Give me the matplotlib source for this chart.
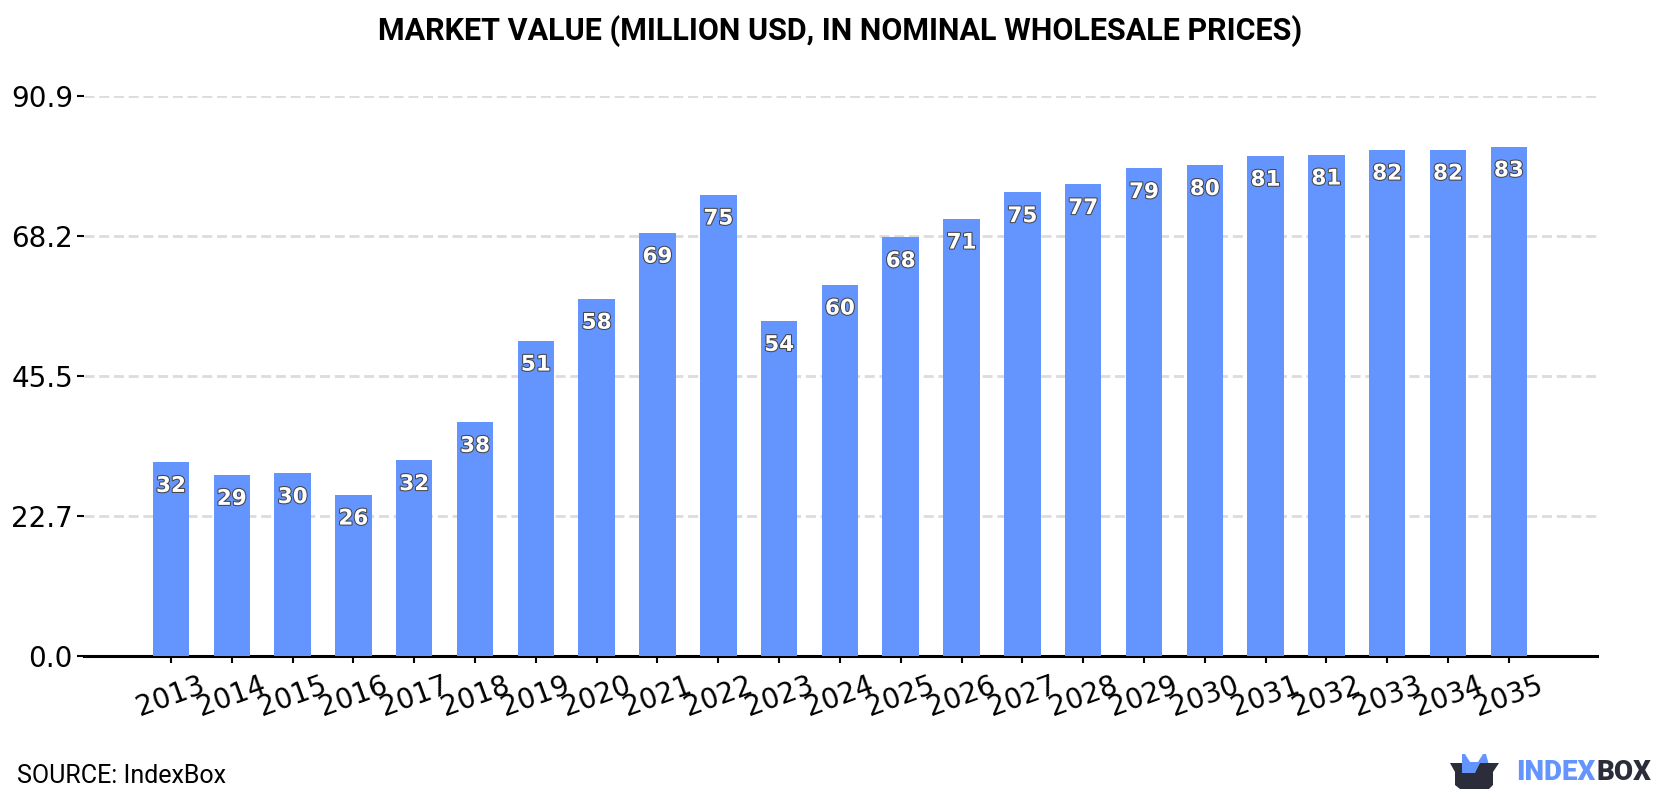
import matplotlib
matplotlib.use("Agg")
import matplotlib.pyplot as plt
import matplotlib.patheffects as pe
from matplotlib.patches import Polygon

# market value per year, million USD
years = [2013, 2014, 2015, 2016, 2017, 2018, 2019, 2020, 2021, 2022, 2023, 2024,
         2025, 2026, 2027, 2028, 2029, 2030, 2031, 2032, 2033, 2034, 2035]
values = [31.5, 29.4, 29.7, 26.2, 31.8, 38.0, 51.2, 58.0, 68.7, 74.9, 54.4, 60.3,
          68.0, 71.0, 75.3, 76.6, 79.2, 79.7, 81.2, 81.4, 82.2, 82.2, 82.7]
y_ticks = [0.0, 22.7, 45.5, 68.2, 90.9]

BLUE = "#6495ff"
DARK = "#2b2d3a"

fig = plt.figure(figsize=(16.8, 8), dpi=100)
ax = fig.add_axes([84 / 1680, 1 - 656 / 800, (1597 - 84) / 1680, 560 / 800])

bars = ax.bar(years, values, width=0.6, color=BLUE, zorder=3)

# value labels sit just inside the top of each bar
for year, val in zip(years, values):
    ax.annotate(f"{val:.0f}", (year, val), xytext=(0, -24), textcoords="offset pixels",
                ha="center", va="center", fontsize=15.5, fontweight="bold", color="white",
                family="DejaVu Sans", zorder=4,
                path_effects=[pe.withStroke(linewidth=1.5, foreground="#444444")])

ax.set_xlim(2013 - 1.43, 2013 + 23.45)
ax.set_ylim(0, 90.9)
ax.set_xticks(years)
ax.set_xticklabels(years, rotation=20, fontsize=20)
ax.set_yticks(y_ticks)
ax.set_yticklabels([f"{t:.1f}" for t in y_ticks], fontsize=20)
ax.tick_params(axis="y", length=5, width=1.5, pad=3)
ax.tick_params(axis="x", length=5, width=1.5, pad=6)
ax.yaxis.grid(True, linestyle=(0, (3.6, 1.7)), linewidth=2, color="#dcdcdc", zorder=1)
ax.set_axisbelow(True)

for side in ["top", "left", "right"]:
    ax.spines[side].set_visible(False)
ax.spines["bottom"].set_linewidth(2.2)

fig.text(0.5, 1 - 31 / 800, "MARKET VALUE (MILLION USD, IN NOMINAL WHOLESALE PRICES)",
         ha="center", va="center", fontsize=22, fontweight="bold", family="Roboto")
fig.text(17 / 1680, 1 - 776 / 800, "SOURCE: IndexBox", ha="left", va="center",
         fontsize=18, family="Roboto")

# logo in the bottom right corner, laid out in pixels
logo = fig.add_axes([0, 0, 1, 1], facecolor="none")
logo.set_xlim(0, 1680)
logo.set_ylim(800, 0)
logo.axis("off")
logo.add_patch(Polygon([(1462, 773), (1462, 754), (1465, 754), (1470, 762), (1478, 762),
                        (1483, 754), (1486, 754), (1489, 765), (1480, 775)],
                       closed=True, color=BLUE, lw=0))
logo.add_patch(Polygon([(1450, 763), (1462, 763), (1462, 773), (1475, 773), (1480, 763),
                        (1499, 763), (1493, 772), (1493, 785), (1489, 789), (1460, 789),
                        (1455, 785), (1455, 772)],
                       closed=True, color=DARK, lw=0))
logo.text(1516, 773, "INDEX", ha="left", va="center", fontsize=20, fontweight="black",
          color=BLUE, family="Roboto")
logo.text(1597, 773, "BOX", ha="left", va="center", fontsize=20, fontweight="black",
          color=DARK, family="Roboto")

fig.savefig("out.png", dpi=100)
